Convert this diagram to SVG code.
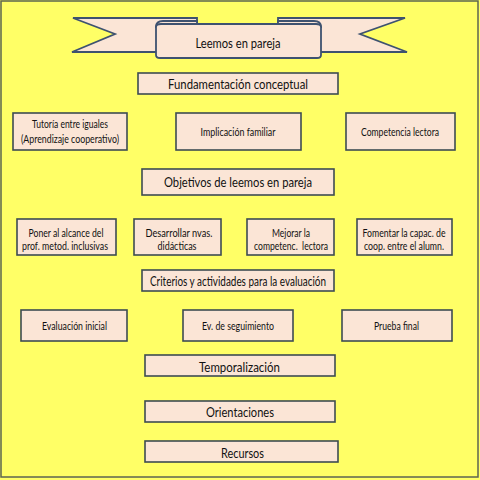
<svg xmlns="http://www.w3.org/2000/svg" width="480" height="480" viewBox="0 0 480 480">
<style>
.bx{fill:#FBE5D6;stroke:#3E4C52;stroke-width:1.6}
.rb{fill:#FBE5D6;stroke:#3E5270;stroke-width:1.8;stroke-linejoin:miter}
text{font-family:"Lato","Open Sans","Liberation Sans",sans-serif;fill:#111;text-anchor:middle}
.s{font-size:10.5px}
.m{font-size:14px}
</style>
<rect x="0" y="0" width="480" height="480" fill="#FFFF66"/>
<rect x="1" y="1" width="477" height="476" fill="none" stroke="#5C6650" stroke-width="1.5"/>
<g id="connectors"></g>
<g id="title">
<polygon class="rb" points="73,18 197,18 197,52 72,52 115,34"/>
<polygon class="rb" points="405,18 278,18 278,52 407,52 360,34"/>
<path class="rb" d="M156,27 Q156,21 163,21 L197,21 L197,25 Z"/>
<path class="rb" d="M321,27 Q321,21 314,21 L278,21 L278,25 Z"/>
<path class="rb" d="M156,27 Q156,24 161,24 L316,24 Q321,24 321,27 L321,55 Q321,58 317,58 L160,58 Q156,58 156,55 Z"/>
<text class="m" x="238" y="48" textLength="85" lengthAdjust="spacingAndGlyphs">Leemos en pareja</text>
</g>
<g id="fundamentacion"><rect class="bx" x="138" y="73" width="200" height="21"/><text class="m" x="238" y="89" textLength="140" lengthAdjust="spacingAndGlyphs">Fundamentación conceptual</text></g>
<g id="tutoria"><rect class="bx" x="13" y="113" width="114" height="37"/><text class="s" x="70" y="128" textLength="76" lengthAdjust="spacingAndGlyphs">Tutoría entre iguales</text><text class="s" x="70" y="143" textLength="98" lengthAdjust="spacingAndGlyphs">(Aprendizaje cooperativo)</text></g>
<g id="implicacion"><rect class="bx" x="176" y="113" width="125" height="37"/><text class="s" x="238" y="136" textLength="75" lengthAdjust="spacingAndGlyphs">Implicación familiar</text></g>
<g id="competencia"><rect class="bx" x="346" y="113" width="109" height="37"/><text class="s" x="400" y="136" textLength="78" lengthAdjust="spacingAndGlyphs">Competencia lectora</text></g>
<g id="objetivos"><rect class="bx" x="142" y="169" width="192" height="26"/><text class="m" x="238" y="187" textLength="148" lengthAdjust="spacingAndGlyphs">Objetivos de leemos en pareja</text></g>
<g id="obj1"><rect class="bx" x="17" y="219" width="99" height="36"/><text class="s" x="66" y="237" textLength="75" lengthAdjust="spacingAndGlyphs">Poner al alcance del</text><text class="s" x="65" y="250" textLength="86" lengthAdjust="spacingAndGlyphs">prof. metod. inclusivas</text></g>
<g id="obj2"><rect class="bx" x="134" y="219" width="87" height="36"/><text class="s" x="179" y="237" textLength="67" lengthAdjust="spacingAndGlyphs">Desarrollar nvas.</text><text class="s" x="177" y="250" textLength="39" lengthAdjust="spacingAndGlyphs">didácticas</text></g>
<g id="obj3"><rect class="bx" x="247" y="219" width="87" height="36"/><text class="s" x="291" y="237" textLength="38" lengthAdjust="spacingAndGlyphs">Mejorar la</text><text class="s" x="291" y="250" textLength="74" lengthAdjust="spacingAndGlyphs" xml:space="preserve">competenc.  lectora</text></g>
<g id="obj4"><rect class="bx" x="357" y="219" width="95" height="36"/><text class="s" x="404" y="237" textLength="83" lengthAdjust="spacingAndGlyphs">Fomentar la capac. de</text><text class="s" x="404" y="250" textLength="80" lengthAdjust="spacingAndGlyphs">coop. entre el alumn.</text></g>
<g id="criterios"><rect class="bx" x="142" y="270" width="192" height="21"/><text class="m" x="238" y="286" textLength="176" lengthAdjust="spacingAndGlyphs">Criterios y actividades para la evaluación</text></g>
<g id="ev1"><rect class="bx" x="21" y="310" width="106" height="31"/><text class="s" x="74.5" y="330" textLength="65" lengthAdjust="spacingAndGlyphs">Evaluación inicial</text></g>
<g id="ev2"><rect class="bx" x="183" y="310" width="110" height="31"/><text class="s" x="238" y="330" textLength="72" lengthAdjust="spacingAndGlyphs">Ev. de seguimiento</text></g>
<g id="ev3"><rect class="bx" x="342" y="310" width="110" height="31"/><text class="s" x="396.5" y="330" textLength="45" lengthAdjust="spacingAndGlyphs">Prueba final</text></g>
<g id="temporalizacion"><rect class="bx" x="145" y="355" width="190" height="21"/><text class="m" x="239.5" y="372" textLength="81" lengthAdjust="spacingAndGlyphs">Temporalización</text></g>
<g id="orientaciones"><rect class="bx" x="145" y="401" width="190" height="21"/><text class="m" x="240" y="417" textLength="68" lengthAdjust="spacingAndGlyphs">Orientaciones</text></g>
<g id="recursos"><rect class="bx" x="145" y="441" width="193" height="21"/><text class="m" x="242.5" y="458" textLength="43" lengthAdjust="spacingAndGlyphs">Recursos</text></g>
</svg>
